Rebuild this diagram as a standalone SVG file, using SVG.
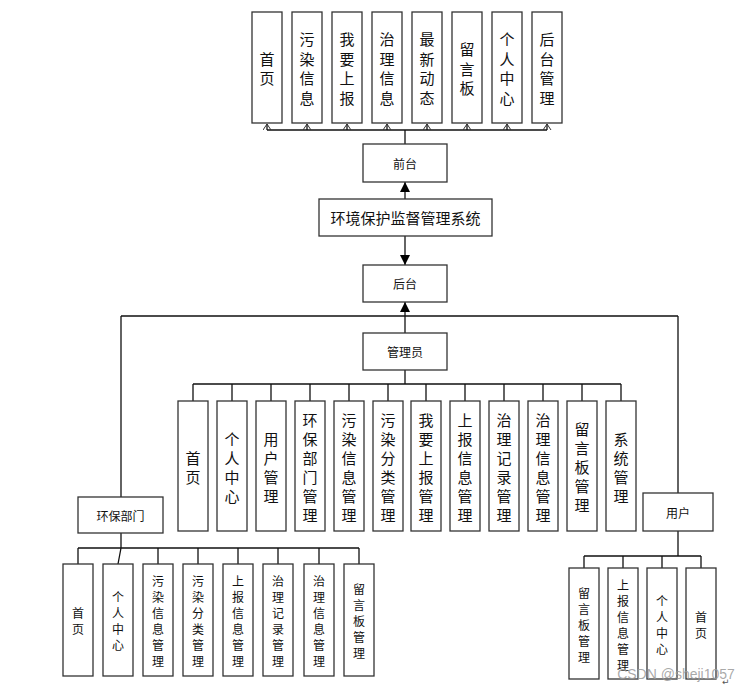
<svg xmlns="http://www.w3.org/2000/svg" width="751" height="689" viewBox="0 0 751 689">
<style>
.b{fill:#fff;stroke:#333;stroke-width:1.3}
.l{fill:none;stroke:#111;stroke-width:1.3}
.t{font-family:"Noto Sans CJK SC","Noto Sans",sans-serif;fill:#111;text-anchor:middle;dominant-baseline:central}
.v15{font-size:15px}
.v13{font-size:12px}
.s12{font-size:12px}
</style>
<defs>
<marker id="fa" markerUnits="userSpaceOnUse" markerWidth="12" markerHeight="12" refX="10" refY="5" orient="auto"><path d="M0,0 L10,5 L0,10 Z" fill="#000"/></marker>
<marker id="oa" markerUnits="userSpaceOnUse" markerWidth="10" markerHeight="10" refX="6" refY="4" orient="auto"><path d="M0,0 L6,4 L0,8" fill="none" stroke="#333" stroke-width="1"/></marker>
</defs>
<g id="connectors">
<path class="l" d="M267,130 H547 M405,130 V144"/>
<path class="l" marker-end="url(#oa)" d="M267,130 V124"/>
<path class="l" marker-end="url(#oa)" d="M307,130 V124"/>
<path class="l" marker-end="url(#oa)" d="M347,130 V124"/>
<path class="l" marker-end="url(#oa)" d="M387,130 V124"/>
<path class="l" marker-end="url(#oa)" d="M427,130 V124"/>
<path class="l" marker-end="url(#oa)" d="M467,130 V124"/>
<path class="l" marker-end="url(#oa)" d="M507,130 V124"/>
<path class="l" marker-end="url(#oa)" d="M547,130 V124"/>
<path class="l" marker-end="url(#fa)" d="M405,199 V182"/>
<path class="l" marker-end="url(#fa)" d="M405,236 V265"/>
<path class="l" marker-end="url(#fa)" d="M405,333 V302"/>
<path class="l" d="M121,316 H678 M121,316 V497 M678,316 V493"/>
<path class="l" d="M405,370 V384 M193,384 H621 M193,384 V401 M232,384 V401 M271,384 V401 M310,384 V401 M349,384 V401 M388,384 V401 M426,384 V401 M465,384 V401 M504,384 V401 M543,384 V401 M582,384 V401 M621,384 V401"/>
<path class="l" d="M121,533 V548 M78,548 H359 M78,548 V564 M121,548 L118,564 M158,548 V564 M198,548 V564 M238,548 V564 M278,548 V564 M319,548 V564 M359,548 V564"/>
<path class="l" d="M678,531 V556 M584,556 H701 M584,556 V568 M623,556 V568 M662,556 V568 M701,556 V568"/>
</g>
<g id="n_top1"><rect class="b" x="252" y="12" width="30" height="111"/><text class="t v15"><tspan x="267" y="57.75">首</tspan><tspan x="267" y="77.25">页</tspan></text></g>
<g id="n_top2"><rect class="b" x="292" y="12" width="30" height="111"/><text class="t v15"><tspan x="307" y="38.25">污</tspan><tspan x="307" y="57.75">染</tspan><tspan x="307" y="77.25">信</tspan><tspan x="307" y="96.75">息</tspan></text></g>
<g id="n_top3"><rect class="b" x="332" y="12" width="30" height="111"/><text class="t v15"><tspan x="347" y="38.25">我</tspan><tspan x="347" y="57.75">要</tspan><tspan x="347" y="77.25">上</tspan><tspan x="347" y="96.75">报</tspan></text></g>
<g id="n_top4"><rect class="b" x="372" y="12" width="30" height="111"/><text class="t v15"><tspan x="387" y="38.25">治</tspan><tspan x="387" y="57.75">理</tspan><tspan x="387" y="77.25">信</tspan><tspan x="387" y="96.75">息</tspan></text></g>
<g id="n_top5"><rect class="b" x="412" y="12" width="30" height="111"/><text class="t v15"><tspan x="427" y="38.25">最</tspan><tspan x="427" y="57.75">新</tspan><tspan x="427" y="77.25">动</tspan><tspan x="427" y="96.75">态</tspan></text></g>
<g id="n_top6"><rect class="b" x="452" y="12" width="30" height="111"/><text class="t v15"><tspan x="467" y="48">留</tspan><tspan x="467" y="67.5">言</tspan><tspan x="467" y="87">板</tspan></text></g>
<g id="n_top7"><rect class="b" x="492" y="12" width="30" height="111"/><text class="t v15"><tspan x="507" y="38.25">个</tspan><tspan x="507" y="57.75">人</tspan><tspan x="507" y="77.25">中</tspan><tspan x="507" y="96.75">心</tspan></text></g>
<g id="n_top8"><rect class="b" x="532" y="12" width="30" height="111"/><text class="t v15"><tspan x="547" y="38.25">后</tspan><tspan x="547" y="57.75">台</tspan><tspan x="547" y="77.25">管</tspan><tspan x="547" y="96.75">理</tspan></text></g>
<g id="n_qiantai"><rect class="b" x="363" y="144" width="84" height="38"/><text class="t s12" x="405" y="163">前台</text></g>
<g id="n_system"><rect class="b" x="319" y="199" width="173" height="37"/><text class="t v15" x="405.5" y="217.5">环境保护监督管理系统</text></g>
<g id="n_houtai"><rect class="b" x="363" y="265" width="84" height="37"/><text class="t s12" x="405" y="283.5">后台</text></g>
<g id="n_admin"><rect class="b" x="363" y="333" width="84" height="37"/><text class="t s12" x="405" y="351.5">管理员</text></g>
<g id="n_m1"><rect class="b" x="178" y="401" width="30" height="130"/><text class="t v15"><tspan x="193" y="456.5">首</tspan><tspan x="193" y="475.5">页</tspan></text></g>
<g id="n_m2"><rect class="b" x="217" y="401" width="30" height="130"/><text class="t v15"><tspan x="232" y="437.5">个</tspan><tspan x="232" y="456.5">人</tspan><tspan x="232" y="475.5">中</tspan><tspan x="232" y="494.5">心</tspan></text></g>
<g id="n_m3"><rect class="b" x="256" y="401" width="30" height="130"/><text class="t v15"><tspan x="271" y="437.5">用</tspan><tspan x="271" y="456.5">户</tspan><tspan x="271" y="475.5">管</tspan><tspan x="271" y="494.5">理</tspan></text></g>
<g id="n_m4"><rect class="b" x="295" y="401" width="30" height="130"/><text class="t v15"><tspan x="310" y="418.5">环</tspan><tspan x="310" y="437.5">保</tspan><tspan x="310" y="456.5">部</tspan><tspan x="310" y="475.5">门</tspan><tspan x="310" y="494.5">管</tspan><tspan x="310" y="513.5">理</tspan></text></g>
<g id="n_m5"><rect class="b" x="334" y="401" width="30" height="130"/><text class="t v15"><tspan x="349" y="418.5">污</tspan><tspan x="349" y="437.5">染</tspan><tspan x="349" y="456.5">信</tspan><tspan x="349" y="475.5">息</tspan><tspan x="349" y="494.5">管</tspan><tspan x="349" y="513.5">理</tspan></text></g>
<g id="n_m6"><rect class="b" x="373" y="401" width="30" height="130"/><text class="t v15"><tspan x="388" y="418.5">污</tspan><tspan x="388" y="437.5">染</tspan><tspan x="388" y="456.5">分</tspan><tspan x="388" y="475.5">类</tspan><tspan x="388" y="494.5">管</tspan><tspan x="388" y="513.5">理</tspan></text></g>
<g id="n_m7"><rect class="b" x="411" y="401" width="30" height="130"/><text class="t v15"><tspan x="426" y="418.5">我</tspan><tspan x="426" y="437.5">要</tspan><tspan x="426" y="456.5">上</tspan><tspan x="426" y="475.5">报</tspan><tspan x="426" y="494.5">管</tspan><tspan x="426" y="513.5">理</tspan></text></g>
<g id="n_m8"><rect class="b" x="450" y="401" width="30" height="130"/><text class="t v15"><tspan x="465" y="418.5">上</tspan><tspan x="465" y="437.5">报</tspan><tspan x="465" y="456.5">信</tspan><tspan x="465" y="475.5">息</tspan><tspan x="465" y="494.5">管</tspan><tspan x="465" y="513.5">理</tspan></text></g>
<g id="n_m9"><rect class="b" x="489" y="401" width="30" height="130"/><text class="t v15"><tspan x="504" y="418.5">治</tspan><tspan x="504" y="437.5">理</tspan><tspan x="504" y="456.5">记</tspan><tspan x="504" y="475.5">录</tspan><tspan x="504" y="494.5">管</tspan><tspan x="504" y="513.5">理</tspan></text></g>
<g id="n_m10"><rect class="b" x="528" y="401" width="30" height="130"/><text class="t v15"><tspan x="543" y="418.5">治</tspan><tspan x="543" y="437.5">理</tspan><tspan x="543" y="456.5">信</tspan><tspan x="543" y="475.5">息</tspan><tspan x="543" y="494.5">管</tspan><tspan x="543" y="513.5">理</tspan></text></g>
<g id="n_m11"><rect class="b" x="567" y="401" width="30" height="130"/><text class="t v15"><tspan x="582" y="428">留</tspan><tspan x="582" y="447">言</tspan><tspan x="582" y="466">板</tspan><tspan x="582" y="485">管</tspan><tspan x="582" y="504">理</tspan></text></g>
<g id="n_m12"><rect class="b" x="606" y="401" width="30" height="130"/><text class="t v15"><tspan x="621" y="437.5">系</tspan><tspan x="621" y="456.5">统</tspan><tspan x="621" y="475.5">管</tspan><tspan x="621" y="494.5">理</tspan></text></g>
<g id="n_hbbm"><rect class="b" x="78" y="497" width="85" height="36"/><text class="t s12" x="120.5" y="515">环保部门</text></g>
<g id="n_user"><rect class="b" x="643" y="493" width="70" height="38"/><text class="t s12" x="678" y="512">用户</text></g>
<g id="n_h1"><rect class="b" x="63" y="564" width="30" height="112"/><text class="t v13"><tspan x="78" y="612">首</tspan><tspan x="78" y="628">页</tspan></text></g>
<g id="n_h2"><rect class="b" x="103" y="564" width="30" height="112"/><text class="t v13"><tspan x="118" y="596">个</tspan><tspan x="118" y="612">人</tspan><tspan x="118" y="628">中</tspan><tspan x="118" y="644">心</tspan></text></g>
<g id="n_h3"><rect class="b" x="143" y="564" width="30" height="112"/><text class="t v13"><tspan x="158" y="580">污</tspan><tspan x="158" y="596">染</tspan><tspan x="158" y="612">信</tspan><tspan x="158" y="628">息</tspan><tspan x="158" y="644">管</tspan><tspan x="158" y="660">理</tspan></text></g>
<g id="n_h4"><rect class="b" x="183" y="564" width="30" height="112"/><text class="t v13"><tspan x="198" y="580">污</tspan><tspan x="198" y="596">染</tspan><tspan x="198" y="612">分</tspan><tspan x="198" y="628">类</tspan><tspan x="198" y="644">管</tspan><tspan x="198" y="660">理</tspan></text></g>
<g id="n_h5"><rect class="b" x="223" y="564" width="30" height="112"/><text class="t v13"><tspan x="238" y="580">上</tspan><tspan x="238" y="596">报</tspan><tspan x="238" y="612">信</tspan><tspan x="238" y="628">息</tspan><tspan x="238" y="644">管</tspan><tspan x="238" y="660">理</tspan></text></g>
<g id="n_h6"><rect class="b" x="263" y="564" width="30" height="112"/><text class="t v13"><tspan x="278" y="580">治</tspan><tspan x="278" y="596">理</tspan><tspan x="278" y="612">记</tspan><tspan x="278" y="628">录</tspan><tspan x="278" y="644">管</tspan><tspan x="278" y="660">理</tspan></text></g>
<g id="n_h7"><rect class="b" x="304" y="564" width="30" height="112"/><text class="t v13"><tspan x="319" y="580">治</tspan><tspan x="319" y="596">理</tspan><tspan x="319" y="612">信</tspan><tspan x="319" y="628">息</tspan><tspan x="319" y="644">管</tspan><tspan x="319" y="660">理</tspan></text></g>
<g id="n_h8"><rect class="b" x="344" y="564" width="30" height="112"/><text class="t v13"><tspan x="359" y="588">留</tspan><tspan x="359" y="604">言</tspan><tspan x="359" y="620">板</tspan><tspan x="359" y="636">管</tspan><tspan x="359" y="652">理</tspan></text></g>
<g id="n_u1"><rect class="b" x="569" y="568" width="30" height="111"/><text class="t v13"><tspan x="584" y="591.5">留</tspan><tspan x="584" y="607.5">言</tspan><tspan x="584" y="623.5">板</tspan><tspan x="584" y="639.5">管</tspan><tspan x="584" y="655.5">理</tspan></text></g>
<g id="n_u2"><rect class="b" x="608" y="568" width="30" height="111"/><text class="t v13"><tspan x="623" y="583.5">上</tspan><tspan x="623" y="599.5">报</tspan><tspan x="623" y="615.5">信</tspan><tspan x="623" y="631.5">息</tspan><tspan x="623" y="647.5">管</tspan><tspan x="623" y="663.5">理</tspan></text></g>
<g id="n_u3"><rect class="b" x="647" y="568" width="30" height="111"/><text class="t v13"><tspan x="662" y="599.5">个</tspan><tspan x="662" y="615.5">人</tspan><tspan x="662" y="631.5">中</tspan><tspan x="662" y="647.5">心</tspan></text></g>
<g id="n_u4"><rect class="b" x="686" y="568" width="30" height="111"/><text class="t v13"><tspan x="701" y="615.5">首</tspan><tspan x="701" y="631.5">页</tspan></text></g>
<text x="676" y="679" font-family="'Liberation Sans',sans-serif" font-size="14" fill="#9a9a9a" fill-opacity="0.85" text-anchor="middle">CSDN @sheji1057</text>
<text x="722" y="685" font-family="'DejaVu Sans',sans-serif" font-size="9" fill="#555">↵</text>
</svg>
